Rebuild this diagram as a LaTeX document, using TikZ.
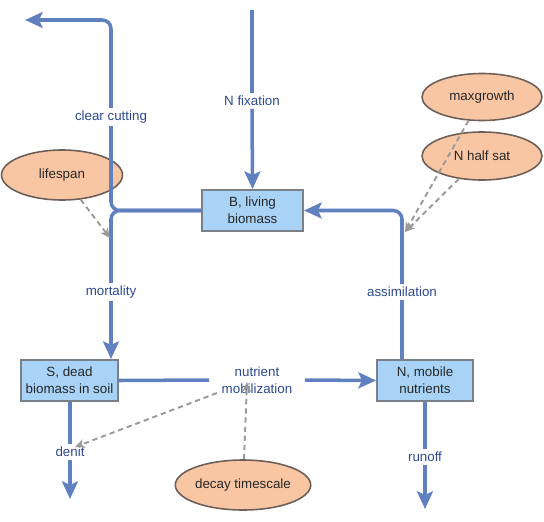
\documentclass[tikz,border=0pt]{standalone}
\usepackage{fontspec}
\setmainfont{Liberation Sans}
\usetikzlibrary{arrows.meta,shapes.geometric}
\definecolor{flowblue}{HTML}{6080C0}
\definecolor{boxfill}{HTML}{A8D3F7}
\definecolor{boxline}{HTML}{7A8088}
\definecolor{parfill}{HTML}{F9C6A4}
\definecolor{parline}{HTML}{6B5F58}
\definecolor{labblue}{HTML}{2E4A8C}
\definecolor{infgray}{HTML}{9A9A9A}
\begin{document}
\begin{tikzpicture}[x=0.02cm,y=-0.02cm,
    font=\fontsize{7.6}{9.6}\selectfont,
    stock/.style={draw=boxline,line width=1.1pt,fill=boxfill,align=center,
      minimum height=0.82cm,inner sep=1pt,text=black!85},
    param/.style={ellipse,draw=parline,line width=0.9pt,fill=parfill,
      inner sep=0pt,text=black!85},
    flowlab/.style={fill=white,text=labblue,align=center,inner xsep=2pt,inner ysep=1.5pt},
    flow/.style={draw=flowblue,line width=2pt},
    flowarr/.style={flow,-{Stealth[length=10pt,width=9pt,inset=2pt]}},
    infl/.style={draw=infgray,line width=1.1pt,dash pattern=on 3pt off 2.2pt,
      -{Stealth[length=5.5pt,width=5pt,inset=1.5pt]}}]
    \useasboundingbox (0,0) rectangle (544,521);
    % Estoques
    \node[stock,minimum width=2.02cm] (B) at (252.5,210.5) {B, living\\biomass};
    \node[stock,minimum width=1.94cm] (S) at (69.5,380.5) {S, dead\\biomass in soil};
    \node[stock,minimum width=1.92cm] (N) at (425,380.5)  {N, mobile\\nutrients};
    % Parametros
    \node[param,minimum width=2.42cm,minimum height=1cm]  (life)  at (62,175)  {lifespan};
    \node[param,minimum width=2.4cm,minimum height=0.94cm] (maxg)  at (482,97)  {maxgrowth};
    \node[param,minimum width=2.4cm,minimum height=0.96cm] (halfs) at (482,156) {N half sat};
    \node[param,minimum width=2.3cm,minimum height=1cm]   (decay) at (243,485) {decay timescale};
    % Rotulos dos fluxos
    \node[flowlab] (fix)    at (252,101) {N fixation};
    \node[flowlab] (cut)    at (111,117) {clear cutting};
    \node[flowlab] (mort)   at (111,292) {mortality};
    \node[flowlab] (assim)  at (402,292) {assimilation};
    \node[flowlab,inner xsep=7pt] (mob) at (257,380) {nutrient\\mobilization};
    \node[flowlab] (denit)  at (70,452)  {denit};
    \node[flowlab] (runoff) at (425,457) {runoff};
    % Pontas livres
    \coordinate (fixsrc)   at (252,10);
    \coordinate (cutend)   at (25,20);
    \coordinate (denitend) at (70,499);
    \coordinate (runend)   at (425,509);
    \coordinate (mortpt)   at (110,238);
    \coordinate (assimpt)  at (405,232);
    \coordinate (mobpt)    at (247,382);
    \coordinate (mobsrc)   at (217,393);
    \coordinate (denitpt)  at (75,447);
    % Fluxos
    \draw[flow] (fixsrc) -- (fix.north);
    \draw[flowarr] (fix.south) -- (B.north);
    \draw[flow,rounded corners=5pt] (B.west) -| (cut.south);
    \draw[flowarr,rounded corners=5pt] (cut.north) |- (cutend);
    \draw[flow,rounded corners=5pt] (B.west) -| (mort.north);
    \draw[flowarr] (mort.south) -- (mort.south |- S.north);
    \draw[flow] (assim.south |- N.north) -- (assim.south);
    \draw[flowarr,rounded corners=5pt] (assim.north) |- (B.east);
    \draw[flow] (S.east) -- (mob.west);
    \draw[flowarr] (mob.east) -- (N.west);
    \draw[flow] (denit.north |- S.south) -- (denit.north);
    \draw[flowarr] (denit.south) -- (denitend);
    \draw[flow] (runoff.north |- N.south) -- (runoff.north);
    \draw[flowarr] (runoff.south) -- (runend);
    % Influencias
    \draw[infl] (life) -- (mortpt);
    \draw[infl] (halfs) -- (assimpt);
    \draw[infl] (maxg) -- (assimpt);
    \draw[infl] (decay) -- (mobpt);
    \draw[infl] (mobsrc) -- (denitpt);
\end{tikzpicture}
\end{document}
